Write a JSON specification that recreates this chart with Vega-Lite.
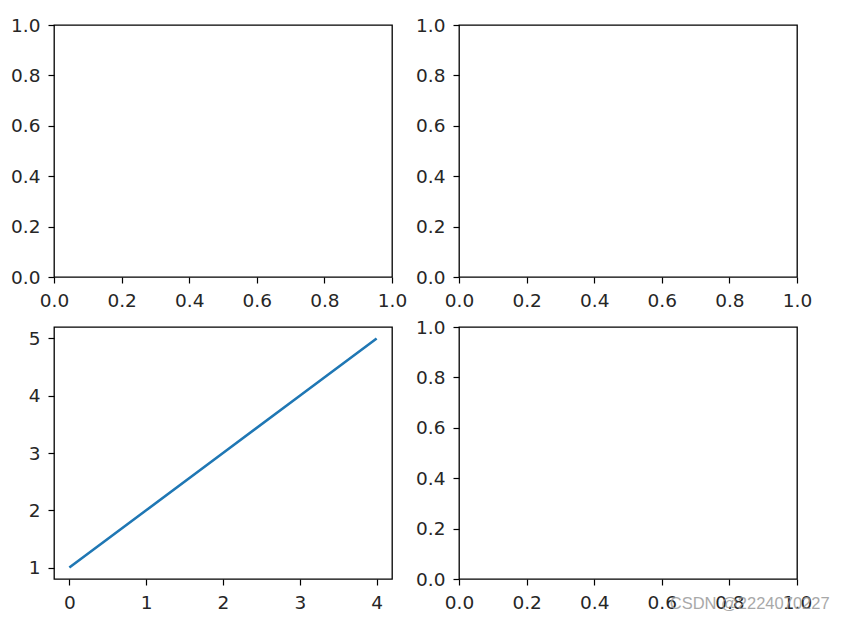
{
  "$schema": "https://vega.github.io/schema/vega-lite/v6.json",
  "background": "white",
  "padding": {"left": 9, "top": 15, "right": 5, "bottom": 5},
  "datasets": {
    "empty": [{"x": 0, "y": 0}],
    "line": [{"x": 0, "y": 1}, {"x": 1, "y": 2}, {"x": 2, "y": 3}, {"x": 3, "y": 4}, {"x": 4, "y": 5}],
    "mark": [{"x": 0.86, "y": -0.1, "t": "CSDN @2224070227"}]
  },
  "columns": 2,
  "bounds": "flush",
  "spacing": {"row": 50, "column": 67},
  "concat": [
    {
      "width": 338, "height": 252,
      "data": {"name": "empty"},
      "mark": {"type": "point", "opacity": 0},
      "encoding": {
        "x": {"field": "x", "type": "quantitative", "title": null, "scale": {"domain": [0, 1], "nice": false, "zero": false}, "axis": {"values": [0, 0.2, 0.4, 0.6, 0.8, 1.0], "format": ".1f"}},
        "y": {"field": "y", "type": "quantitative", "title": null, "scale": {"domain": [0, 1], "nice": false, "zero": false}, "axis": {"values": [0, 0.2, 0.4, 0.6, 0.8, 1.0], "format": ".1f"}}
      }
    },
    {
      "width": 338, "height": 252,
      "data": {"name": "empty"},
      "mark": {"type": "point", "opacity": 0},
      "encoding": {
        "x": {"field": "x", "type": "quantitative", "title": null, "scale": {"domain": [0, 1], "nice": false, "zero": false}, "axis": {"values": [0, 0.2, 0.4, 0.6, 0.8, 1.0], "format": ".1f"}},
        "y": {"field": "y", "type": "quantitative", "title": null, "scale": {"domain": [0, 1], "nice": false, "zero": false}, "axis": {"values": [0, 0.2, 0.4, 0.6, 0.8, 1.0], "format": ".1f"}}
      }
    },
    {
      "width": 338, "height": 252,
      "data": {"name": "line"},
      "mark": {"type": "line", "color": "#1f77b4", "strokeWidth": 2.6},
      "encoding": {
        "x": {"field": "x", "type": "quantitative", "title": null, "scale": {"domain": [-0.2, 4.2], "nice": false, "zero": false}, "axis": {"values": [0, 1, 2, 3, 4], "format": "d"}},
        "y": {"field": "y", "type": "quantitative", "title": null, "scale": {"domain": [0.8, 5.2], "nice": false, "zero": false}, "axis": {"values": [1, 2, 3, 4, 5], "format": "d"}}
      }
    },
    {
      "width": 338, "height": 252,
      "layer": [
        {
          "data": {"name": "empty"},
          "mark": {"type": "point", "opacity": 0},
          "encoding": {
            "x": {"field": "x", "type": "quantitative", "title": null, "scale": {"domain": [0, 1], "nice": false, "zero": false}, "axis": {"values": [0, 0.2, 0.4, 0.6, 0.8, 1.0], "format": ".1f"}},
            "y": {"field": "y", "type": "quantitative", "title": null, "scale": {"domain": [0, 1], "nice": false, "zero": false}, "axis": {"values": [0, 0.2, 0.4, 0.6, 0.8, 1.0], "format": ".1f"}}
          }
        },
        {
          "data": {"name": "mark"},
          "mark": {"type": "text", "font": "Liberation Sans", "fontSize": 16.5, "color": "#9a9a9a", "opacity": 0.85, "align": "center", "baseline": "middle"},
          "encoding": {
            "x": {"field": "x", "type": "quantitative"},
            "y": {"field": "y", "type": "quantitative"},
            "text": {"field": "t"}
          }
        }
      ]
    }
  ],
  "config": {
    "view": {"stroke": "#000", "strokeWidth": 1.3},
    "axis": {
      "grid": false,
      "domain": false,
      "tickColor": "#000",
      "tickSize": 6,
      "tickWidth": 1.2,
      "labelFont": "DejaVu Sans",
      "labelFontSize": 18.5,
      "labelColor": "#262626",
      "labelPadding": 8,
      "labelFlush": false,
      "labelOverlap": false
    }
  }
}
